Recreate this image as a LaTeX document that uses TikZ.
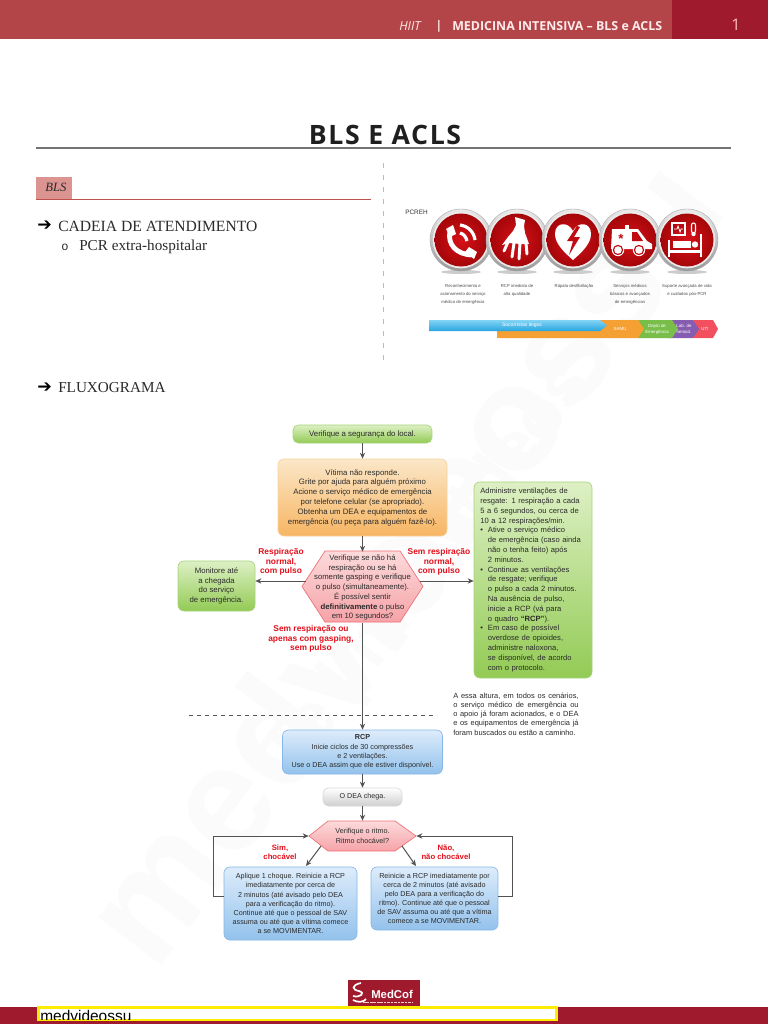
\documentclass[tikz,border=0pt]{standalone}
\usepackage{fontspec}
\setmainfont{Liberation Serif}
\setsansfont{Liberation Sans}
\setmonofont{Liberation Mono}
\newfontfamily\opensansf{Open Sans}
\newfontfamily\opentitlef[LetterSpace=6]{Open Sans}
\newfontfamily\dejavuf{DejaVu Sans}
\usetikzlibrary{arrows.meta,calc}
\definecolor{bandlight}{HTML}{B34548}
\definecolor{banddark}{HTML}{A01A2D}
\definecolor{redlabel}{HTML}{E2101C}
\definecolor{txt}{HTML}{2B2B2B}
\definecolor{grnl}{HTML}{A6D47A}\definecolor{grnt}{HTML}{DDF0C4}\definecolor{grnb}{HTML}{93CB55}
\definecolor{orgl}{HTML}{F8D29C}\definecolor{orgt}{HTML}{FBE7C8}\definecolor{orgb}{HTML}{F7B562}
\definecolor{blul}{HTML}{86B7E6}\definecolor{blut}{HTML}{DDECFB}\definecolor{blub}{HTML}{93C2EC}
\definecolor{gryl}{HTML}{D8D8D8}\definecolor{gryb}{HTML}{CFCFCF}
\definecolor{hexl}{HTML}{EE6F76}\definecolor{hext}{HTML}{FCDADB}\definecolor{hexb}{HTML}{F6A3A8}
\definecolor{tabc}{RGB}{219,148,144}
\definecolor{ruler}{RGB}{192,80,77}
\definecolor{dashp}{RGB}{235,165,165}
\definecolor{ballin}{RGB}{214,18,24}
\definecolor{ballout}{RGB}{165,6,10}
\definecolor{iconred}{RGB}{190,12,18}
\definecolor{barred}{RGB}{242,80,95}
\definecolor{barpur}{RGB}{134,92,176}
\definecolor{bargrn}{RGB}{120,190,72}
\definecolor{barorg}{RGB}{244,160,50}
\definecolor{barblt}{RGB}{130,212,245}
\definecolor{barblb}{RGB}{40,165,222}
\tikzset{
  x=0.75pt,y=-0.75pt,
  boxsize/.style 2 args={minimum width=#1*0.75pt,minimum height=#2*0.75pt},
  fbox/.style 2 args={font=\sffamily\fontsize{#1}{#2}\selectfont,text=txt,align=center,inner sep=0pt,rounded corners=4.5pt,line width=.5pt},
  greenfill/.style={fbox={5.85}{7.35},draw=grnl,top color=grnt,bottom color=grnb},
  orangefill/.style={fbox={5.85}{7.35},draw=orgl,top color=orgt,bottom color=orgb},
  bluefill/.style={fbox={5.4}{#1},draw=blul,top color=blut,bottom color=blub},
  grayfill/.style={fbox={5.35}{7},draw=gryl,top color=white,bottom color=gryb},
  hexbody/.style={draw=hexl,line width=.5pt,top color=hext,bottom color=hexb},
  hextext/.style 2 args={fbox={#1}{#2}},
  arr/.style={draw=black!68,line width=.75pt,-{Stealth[length=4.5pt,width=4pt]}},
  redtxt/.style={font=\sffamily\bfseries\fontsize{6.3}{7}\selectfont,text=redlabel,align=center,inner sep=0pt},
  captxt/.style={font=\sffamily\fontsize{3.2}{6}\selectfont,text=black!70,align=center,inner sep=0pt},
  bartxt/.style={font=\sffamily\fontsize{3.3}{4.4}\selectfont,text=white,align=center,inner sep=0pt},
  body/.style={font=\fontsize{11.4}{13}\selectfont,text=txt,anchor=west,inner sep=0pt},
  mark1/.style={font=\dejavuf\bfseries\fontsize{13}{14}\selectfont,text=black,anchor=west,inner sep=0pt},
  wm/.style={font=\sffamily\bfseries\fontsize{#1}{#1}\selectfont,text=black!1.6,inner sep=0pt},
}
\begin{document}
\begin{tikzpicture}
\useasboundingbox (0,0) rectangle (768,1024);
\fill[white] (0,0) rectangle (768,1024);
% watermark
\node[wm=112,rotate=53] (wmA) at (400,560) {medvideossu};
\node[wm=52,rotate=53] (wmB) at (430,570) {Te | medvideos};
% header
\fill[bandlight] (0,0) rectangle (672,39);
\fill[banddark] (672,0) rectangle (768,39);
\node[font=\opensansf\itshape\fontsize{9.3}{10}\selectfont,text=white!92!red,anchor=west,inner sep=0pt] (hiit) at (399,26) {HIIT};
\node[font=\opensansf\bfseries\fontsize{9}{10}\selectfont,text=white!92!red,inner sep=0pt] (sep) at (439,26) {|};
\node[font=\opensansf\bfseries\fontsize{9.3}{10}\selectfont,text=white!92!red,anchor=west,inner sep=0pt] (hdr) at (452,26) {MEDICINA INTENSIVA – BLS e ACLS};
\node[font=\opensansf\fontsize{12}{14}\selectfont,text=white!75!red,inner sep=0pt] (pg) at (736,25) {1};
% title
\node[font=\opentitlef\bfseries\fontsize{20}{22}\selectfont,text=black!88,inner sep=0pt] (title) at (385,135) {BLS E ACLS};
\draw[black!55,line width=1pt] (36,148) -- (731,148);
% BLS section
\fill[tabc] (36,177) rectangle (72,199);
\node[font=\itshape\fontsize{9.5}{11}\selectfont,text=txt,inner sep=0pt] (bls) at (56,187) {BLS};
\draw[ruler,line width=.7pt] (36,199.3) -- (371,199.3);
\node[mark1] (m1) at (37,226) {➔};
\node[body,font=\fontsize{11.7}{13}\selectfont] (cad) at (58,226) {CADEIA DE ATENDIMENTO};
\node[font=\ttfamily\fontsize{9}{10}\selectfont,text=txt,inner sep=0pt] (ob) at (65,247) {o};
\node[body] (pcr) at (79,247) {PCR extra-hospitalar};
\node[mark1] (m2) at (37,388) {➔};
\node[body] (flx) at (58,388) {FLUXOGRAMA};
\draw[dashp,line width=1pt,dash pattern=on 4pt off 5pt] (383.5,163) -- (383.5,362);
% chain of survival
\node[font=\sffamily\fontsize{4.8}{6}\selectfont,text=black!80,anchor=west,inner sep=0pt] (pcreh) at (405,212) {PCREH};
\foreach \cx/\nm in {461/a,517/b,573/c,630/d,687/e}{
  \fill[black!20] (\cx,272) ellipse (20 and 2);
  \draw[black!35,line width=.3pt,top color=black!8,bottom color=black!40] (\cx,240) circle (31);
  \fill[white!92!black] (\cx,240) circle (28.3);
  \shade[inner color=ballin,outer color=ballout] (\cx,240) circle (26.5);
}
% phone
\begin{scope}[shift={(461,240)}]
\draw[white,line width=3.6pt,line cap=round] (-11,-9) .. controls (-14,5) and (-4,14) .. (10,15);
\fill[white] (-15,-11) -- (-8,-15) -- (-5,-6) -- (-11,-3) -- cycle;
\fill[white] (4,12) -- (8,7) -- (16,12) -- (13,19) -- cycle;
\draw[white,line width=2.4pt] (-1,-7) .. controls (3,-6) and (5,-3) .. (6,1);
\draw[white,line width=2.4pt] (-1,-15) .. controls (7,-14) and (13,-8) .. (14,0);
\end{scope}
% hand
\begin{scope}[shift={(517,240)}]
\fill[white] (-2,-23) -- (8,-20) -- (7,-14) -- (8,-7) -- (12,4) -- (4,4) -- (-8,3) -- (-15,5) -- (-9,-3) -- (-4,-9) -- (-1,-15) -- cycle;
\draw[white,line width=2.2pt,line cap=round] (-9,2) -- (-13,11);
\draw[white,line width=2.2pt,line cap=round] (-3,3) -- (-5,17);
\draw[white,line width=2.2pt,line cap=round] (3,3) -- (2,19);
\draw[white,line width=2.2pt,line cap=round] (9,3) -- (10,14);
\end{scope}
% heart
\begin{scope}[shift={(573,240)}]
\fill[white] (0,20) .. controls (-8,13) and (-18,4) .. (-18,-6) .. controls (-18,-18) and (-5,-19) .. (0,-9) .. controls (5,-19) and (18,-18) .. (18,-6) .. controls (18,4) and (8,13) .. (0,20) -- cycle;
\fill[iconred] (4,-14) -- (-6,1) -- (0,1) -- (-4,15) -- (7,-3) -- (1,-3) -- (7,-13) -- cycle;
\end{scope}
% ambulance
\begin{scope}[shift={(630,240)}]
\fill[white] (-18,-11) -- (8,-11) -- (17,1) -- (22,4) -- (22,9) -- (-19,9) -- cycle;
\fill[white] (-5,-15) rectangle (-1,-11);
\fill[iconred] (2,-8) -- (7,-8) -- (13,1) -- (2,1) -- cycle;
\node[font=\sffamily\bfseries\fontsize{10}{10}\selectfont,text=iconred,inner sep=0pt] (amb) at (-9,-1) {*};
\fill[white] (-12,10) circle (6.2);\fill[iconred] (-12,10) circle (5.2);\fill[white] (-12,10) circle (3.8);
\fill[white] (9,10) circle (6.2);\fill[iconred] (9,10) circle (5.2);\fill[white] (9,10) circle (3.8);
\end{scope}
% bed
\begin{scope}[shift={(687,240)}]
\draw[white,line width=.9pt] (-15,-17) rectangle (-2,-5);
\draw[white,line width=.6pt] (-13,-11) -- (-10,-11) -- (-9,-14) -- (-7,-8) -- (-6,-11) -- (-4,-11);
\draw[white,line width=.8pt,rounded corners=1.5pt] (4.5,-17) rectangle (8.5,-7);
\fill[white] (6.5,-6) circle (2.2);
\fill[white] (-19,0) rectangle (-17,17);
\fill[white] (13,-6) rectangle (15,17);
\fill[white] (-17,10) rectangle (13,13);
\fill[white] (-14,1) rectangle (4,8);
\fill[white] (8,4.5) circle (3.2);
\end{scope}
\node[captxt] (c1) at (463,294) {Reconhecimento e\\acionamento do serviço\\médico de emergência};
\node[captxt] (c2) at (517,290) {RCP imediata de\\alta qualidade};
\node[captxt] (c3) at (574,286) {Rápida desfibrilação};
\node[captxt] (c4) at (630,294) {Serviços médicos\\básicos e avançados\\de emergências};
\node[captxt] (c5) at (687,290) {Suporte avançada de vida\\e cuidados pós-PCR};
% bars
\fill[barred] (693,320) -- (713,320) -- (718,329) -- (713,338) -- (693,338) -- (698,329) -- cycle;
\fill[barpur] (668,320) -- (693,320) -- (699,329) -- (693,338) -- (668,338) -- (674,329) -- cycle;
\fill[bargrn] (638,320) -- (672,320) -- (678,329) -- (672,338) -- (638,338) -- (643,329) -- cycle;
\fill[barorg] (497,331) -- (497,338) -- (638,338) -- (644,329) -- (638,320) -- (595,320) -- (595,331) -- cycle;
\shade[top color=barblt,bottom color=barblb] (429,320) -- (600,320) -- (607,325.5) -- (600,331) -- (429,331) -- cycle;
\node[bartxt,font=\sffamily\fontsize{3.8}{5}\selectfont] (b1) at (522,325.5) {Socorristas leigos};
\node[bartxt] (b2) at (620,329) {SAMU};
\node[bartxt] (b3) at (657,329) {Depto de\\Emergência};
\node[bartxt] (b4) at (684,329) {Lab. de\\hemod.};
\node[bartxt] (b5) at (705,329) {UTI};
% flowchart
\node[greenfill,boxsize={139}{18},rounded corners=4pt] (seg) at (362.5,434) {Verifique a segurança do local.};
\node[orangefill,boxsize={169}{77}] (vit) at (362.5,497.5) {Vítima não responde.\\Grite por ajuda para alguém próximo\\Acione o serviço médico de emergência\\por telefone celular (se apropriado).\\Obtenha um DEA e equipamentos de\\emergência (ou peça para alguém fazê-lo).};
\path[hexbody] (302,586.5) -- (325,551) -- (400,551) -- (423,586.5) -- (400,622) -- (325,622) -- cycle;
\node[hextext={5.8}{7.3},boxsize={121}{71}] (chk) at (362.5,587.5) {Verifique se não há\\respiração ou se há\\somente gasping e verifique\\o pulso (simultaneamente).\\É possível sentir\\\textbf{definitivamente} o pulso\\em 10 segundos?};
\node[greenfill,boxsize={77}{50}] (mon) at (216.5,586) {Monitore até\\a chegada\\do serviço\\de emergência.};
\node[greenfill,font=\sffamily\fontsize{5.7}{7.35}\selectfont,boxsize={118}{196},align=left,text width=79pt] (adm) at (533,580) {Administre ventilações de\\resgate: 1 respiração a cada\\5 a 6 segundos, ou cerca de\\10 a 12 respirações/min.\\
\makebox[5.7pt][l]{\textbullet}Ative o serviço médico\\\hspace*{5.7pt}de emergência (caso ainda\\\hspace*{5.7pt}não o tenha feito) após\\\hspace*{5.7pt}2 minutos.\\
\makebox[5.7pt][l]{\textbullet}Continue as ventilações\\\hspace*{5.7pt}de resgate; verifique\\\hspace*{5.7pt}o pulso a cada 2 minutos.\\\hspace*{5.7pt}Na ausência de pulso,\\\hspace*{5.7pt}inicie a RCP (vá para\\\hspace*{5.7pt}o quadro \textbf{“RCP”}).\\
\makebox[5.7pt][l]{\textbullet}Em caso de possível\\\hspace*{5.7pt}overdose de opioides,\\\hspace*{5.7pt}administre naloxona,\\\hspace*{5.7pt}se disponível, de acordo\\\hspace*{5.7pt}com o protocolo.};
\node[redtxt] (lr1) at (281,562) {Respiração\\normal,\\com pulso};
\node[redtxt] (lr2) at (439,562) {Sem respiração\\normal,\\com pulso};
\node[redtxt] (lr3) at (311,639) {Sem respiração ou\\apenas com gasping,\\sem pulso};
\node[font=\sffamily\fontsize{5.6}{6.8}\selectfont,text=txt,anchor=north west,inner sep=0pt,align=left] (note) at (453,693) {\makebox[94pt][s]{A essa altura, em todos os cenários,}\\\makebox[94pt][s]{o serviço médico de emergência ou}\\\makebox[94pt][s]{o apoio já foram acionados, e o DEA}\\\makebox[94pt][s]{e os equipamentos de emergência já}\\foram buscados ou estão a caminho.};
\coordinate (dashL) at (189,715);
\coordinate (dashR) at (437,715);
\draw[black!65,line width=.6pt,dash pattern=on 3pt off 3pt] (dashL) -- (dashR);
\node[bluefill=7,boxsize={160}{44}] (rcp) at (362.5,752) {\textbf{RCP}\\Inicie ciclos de 30 compressões\\e 2 ventilações.\\Use o DEA assim que ele estiver disponível.};
\node[grayfill,boxsize={79}{18}] (dea) at (362.5,797) {O DEA chega.};
\path[hexbody] (309,836) -- (328,821) -- (395,821) -- (416,836) -- (395,851) -- (328,851) -- cycle;
\node[hextext={5.4}{7},boxsize={107}{30}] (rit) at (362.5,836) {Verifique o ritmo.\\Ritmo chocável?};
\node[bluefill=6.8,boxsize={133}{73}] (sim) at (290.5,903.5) {Aplique 1 choque. Reinicie a RCP\\imediatamente por cerca de\\2 minutos (até avisado pelo DEA\\para a verificação do ritmo).\\Continue até que o pessoal de SAV\\assuma ou até que a vítima comece\\a se MOVIMENTAR.};
\node[bluefill=6.8,boxsize={127}{63}] (nao) at (434.5,898.5) {Reinicie a RCP imediatamente por\\cerca de 2 minutos (até avisado\\pelo DEA para a verificação do\\ritmo). Continue até que o pessoal\\de SAV assuma ou até que a vítima\\comece a se MOVIMENTAR.};
\node[redtxt,font=\sffamily\bfseries\fontsize{5.8}{6.4}\selectfont] (ls) at (280,852) {Sim,\\chocável};
\node[redtxt,font=\sffamily\bfseries\fontsize{5.8}{6.4}\selectfont] (ln) at (446,852) {Não,\\não chocável};
\draw[arr] (seg) -- (vit);
\draw[arr] (vit) -- (chk);
\coordinate (hl) at (305.5,581);\coordinate (hr) at (419.5,581);
\draw[arr] (hl) -- (hl -| mon.east);
\draw[arr] (hr) -- (hr -| adm.west);
\draw[arr] (chk) -- (rcp);
\draw[arr] (rcp) -- (dea);
\draw[arr] (dea) -- (rit);
\coordinate (dls) at (321,846);\coordinate (dle) at (306,866);
\coordinate (drs) at (402,846);\coordinate (dre) at (416,866);
\draw[arr] (dls) -- (dle);
\draw[arr] (drs) -- (dre);
\coordinate (loL0) at (224,896);\coordinate (loL1) at (213,896);
\coordinate (loR0) at (498,896);\coordinate (loR1) at (512,896);
\draw[arr] (loL0) -- (loL1) |- (rit.west);
\draw[arr] (loR0) -- (loR1) |- (rit.east);
% footer
\fill[banddark] (0,1007) rectangle (768,1024);
\fill[banddark] (348,980) rectangle (420,1007);
\draw[white,line width=1.3pt] (361,983) .. controls (351,985) and (352,990) .. (359,991) .. controls (366,993) and (360,998) .. (353,996);
\draw[white,line width=1.3pt] (353,1000) .. controls (358,1003) and (364,1002) .. (366,999);
\node[font=\sffamily\bfseries\fontsize{8.5}{10}\selectfont,text=white,anchor=west,inner sep=0pt] (logo) at (371,994) {MedCof};
\draw[white!80!red,line width=.8pt,dash pattern=on 2pt off .6pt] (363,1002.5) -- (413,1002.5);
\fill[yellow!95!orange] (37,1006) rectangle (558,1021);
\fill[white] (40,1009) rectangle (555,1019);
\begin{scope}
\clip (40,1009) rectangle (555,1019);
\node[font=\sffamily\fontsize{11.6}{14}\selectfont,text=black,anchor=base west,inner sep=0pt] (usr) at (40,1021) {medvideossu};
\end{scope}
\end{tikzpicture}
\end{document}
